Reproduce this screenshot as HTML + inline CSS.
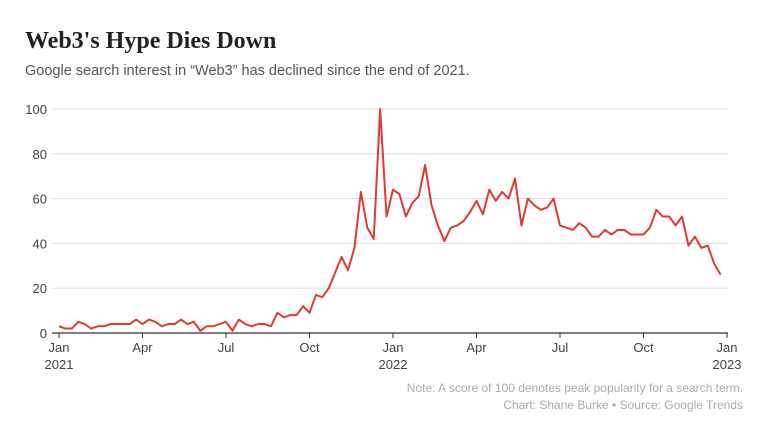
<!DOCTYPE html>
<html><head><meta charset="utf-8"><style>
body{margin:0;background:#fff;width:768px;height:432px;overflow:hidden;font-family:"Liberation Sans",sans-serif}
#title{position:absolute;left:25px;top:28px;font-family:"Liberation Serif",serif;font-weight:bold;font-size:24px;color:#222}
#sub{position:absolute;left:25px;top:63px;font-size:14.5px;color:#555}
.note{position:absolute;right:25px;font-size:12px;color:#aaa}
svg{position:absolute;left:0;top:0}
</style></head><body>
<div id="title">Web3's Hype Dies Down</div>
<div id="sub">Google search interest in “Web3” has declined since the end of 2021.</div>
<div class="note" style="top:381px">Note: A score of 100 denotes peak popularity for a search term.</div>
<div class="note" style="top:398px">Chart: Shane Burke • Source: Google Trends</div>
<svg id="chart" width="768" height="432"></svg>
<script>
const values=[3,2,2,5,4,2,3,3,4,4,4,4,6,4,6,5,3,4,4,6,4,5,1,3,3,4,5,1,6,4,3,4,4,3,9,7,8,8,12,9,17,16,20,27,34,28,38,63,47,42,100,52,64,62,52,58,61,75,57,48,41,47,48,50,54,59,53,64,59,63,60,69,48,60,57,55,56,60,48,47,46,49,47,43,43,46,44,46,46,44,44,44,47,55,52,52,48,52,39,43,38,39,31,26];
const yTicks=[0,20,40,60,80,100];
const xTickWeeks=[0,13,26,39,52,65,78,91,104];
const xTickLabels=["Jan","Apr","Jul","Oct","Jan","Apr","Jul","Oct","Jan"];
const xTickYears=["2021","","","","2022","","","","2023"];
const NS="http://www.w3.org/2000/svg",svg=document.getElementById('chart');
const x=i=>59+i*(727-59)/104, y=v=>333-v*2.24;
function mk(t,a,txt){const e=document.createElementNS(NS,t);for(const k in a)e.setAttribute(k,a[k]);if(txt!=null)e.textContent=txt;svg.appendChild(e);return e;}
yTicks.forEach(v=>{
 const g=mk('line',{x1:52,x2:728,y1:y(v),y2:y(v),stroke:v?'#ddd':'#333','stroke-width':v?1:1.2});
 
 
 const t=mk('text',{x:47,y:y(v)+5,'text-anchor':'end','font-size':13,fill:'#444','font-family':'Liberation Sans'},v);
 
 
});
xTickWeeks.forEach((w,i)=>{
 const tk=mk('line',{x1:x(w),x2:x(w),y1:333,y2:338,stroke:'#333'});
 
 
 const t=mk('text',{x:x(w),y:352,'text-anchor':'middle','font-size':13,fill:'#444','font-family':'Liberation Sans'},xTickLabels[i]);
 
 
 if(xTickYears[i]){const t2=mk('text',{x:x(w),y:369,'text-anchor':'middle','font-size':13,fill:'#444','font-family':'Liberation Sans'},xTickYears[i]);
 
 }
});
const p=mk('polyline',{points:values.map((v,i)=>x(i)+','+y(v)).join(' '),fill:'none',stroke:'#e03a32','stroke-width':2,'stroke-linejoin':'round'});


</script>
</body></html>
